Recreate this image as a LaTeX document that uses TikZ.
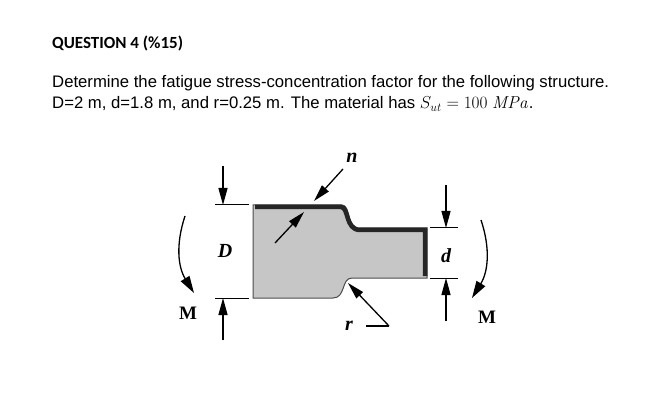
\documentclass[tikz,border=0pt]{standalone}
\usepackage[no-math]{fontspec}
\setmainfont{Liberation Sans}
\newfontfamily\titlefont{Carlito}
\newfontfamily\fig{Liberation Serif}
\usetikzlibrary{arrows.meta}
\begin{document}
\begin{tikzpicture}[x=1pt,y=-1pt,
  dim/.style={line width=1.3pt,-{Triangle[length=17pt,width=9pt]}},
  ext/.style={line width=1pt},
  lbl/.style={font=\fig\bfseries\itshape\fontsize{20}{20}\selectfont},
  txt/.style={anchor=west,inner sep=0pt,font=\fontsize{16.7}{20}\selectfont}]
\useasboundingbox (0,0) rectangle (647,403);
\node[txt,font=\titlefont\bfseries\fontsize{17}{20}\selectfont] (t) at (52,43) {QUESTION 4 (\%15)};
\node[txt] (l1) at (52,83) {Determine the fatigue stress-concentration factor for the following structure.};
\node[txt] (l2) at (52,104) {D=2 m, d=1.8 m, and r=0.25 m. The material has $S_{ut}=100\ \mathit{MPa}$.};
% body
\fill[gray!45,draw=black!70,line width=1pt] (253,205) -- (342,205) .. controls (351,205) and (346,228) .. (360,228) -- (427,228) -- (427,278) -- (352,278) .. controls (341,278) and (346,298) .. (333,298) -- (253,298) -- cycle;
\draw[black!85,line width=4.5pt] (255,207) -- (341,207) .. controls (349,207) and (345,230) .. (360,230) -- (425,230) -- (425,276);
% D
\draw[ext] (215,205) -- (249,205); \draw[ext] (215,298) -- (249,298);
\coordinate (dt) at (223,205); \coordinate (db) at (223,298);
\draw[dim] (223,166) -- (dt); \draw[dim] (223,340) -- (db);
\node[lbl] (D) at (225,251) {D};
% d
\draw[ext] (430,228) -- (458,228); \draw[ext] (430,278) -- (458,278);
\coordinate (et) at (446,228); \coordinate (eb) at (446,278);
\draw[dim] (446,185) -- (et); \draw[dim] (446,321) -- (eb);
\node[lbl] (d) at (446,256) {d};
% n
\coordinate (n1) at (314,201); \coordinate (n2) at (304,212);
\draw[dim] (343,169) -- (n1); \draw[dim] (275,243) -- (n2);
\node[lbl] (n) at (352,158) {n};
% r
\coordinate (rc) at (348,283); \coordinate (rk) at (389,326);
\draw[dim] (rk) -- (rc); \draw[line width=1.3pt] (rk) -- (366,326);
\node[lbl] (r) at (349,326) {r};
% M
\draw[line width=1.3pt,-{Triangle[length=17pt,width=10pt]}] (185,216) to[bend right=25] (194,293);
\node[font=\fig\bfseries\fontsize{19}{19}\selectfont] (M1) at (188,313) {M};
\draw[line width=1.3pt,-{Triangle[length=17pt,width=10pt]}] (481,220) to[bend left=25] (472,298);
\node[font=\fig\bfseries\fontsize{19}{19}\selectfont] (M2) at (487,317) {M};
\end{tikzpicture}
\end{document}
